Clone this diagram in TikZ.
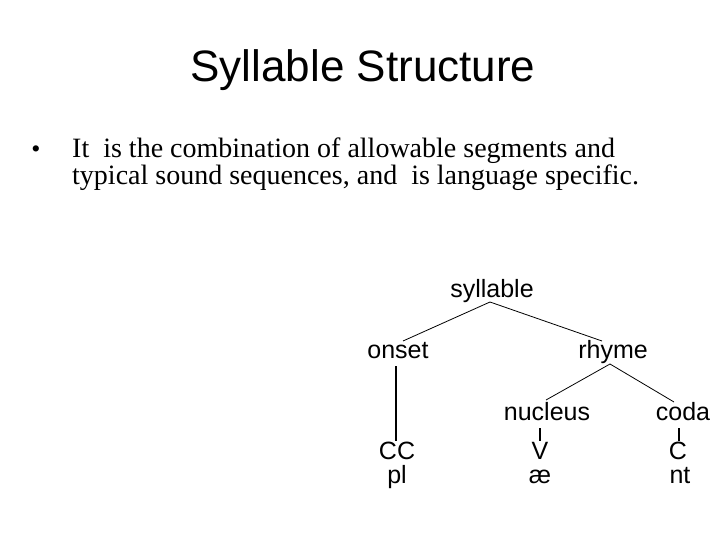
\documentclass[tikz,border=0pt]{standalone}
\usepackage{fontspec}
\setmainfont{Liberation Serif}
\newfontfamily\arialf{Liberation Sans}
\begin{document}
\begin{tikzpicture}[x=1pt,y=-1pt,
  tl/.style={font=\arialf\fontsize{25}{28}\selectfont, inner sep=1pt, text height=17pt, text depth=5pt},
  br/.style={line width=0.8pt}]
\useasboundingbox (0,0) rectangle (728,546);
\node (title) at (363,70) {\arialf\fontsize{44}{50}\selectfont Syllable Structure};
\node (bul) at (36,152) {\fontsize{26}{28}\selectfont •};
\node[anchor=north west, align=left, inner sep=0pt] (txt) at (72,138)
 {\fontsize{28}{28}\selectfont It\ \ is the combination of allowable segments and\\
  \fontsize{28}{28}\selectfont typical sound sequences, and\ \ is language specific.};
\node[tl] (syl) at (492,291) {syllable};
\node[tl] (ons) at (398,352) {onset};
\node[tl] (rhy) at (613,352) {rhyme};
\node[tl] (nuc) at (547,414) {nucleus};
\node[tl] (cod) at (683,414) {coda};
\node[tl] (cc) at (397,453) {CC};
\node[tl] (v) at (540,453) {V};
\node[tl] (c) at (678,453) {C};
\node[tl] (pl) at (397,477) {pl};
\node[tl] (ae) at (540,477) {æ};
\node[tl] (nt) at (680,477) {nt};
\coordinate (s0) at (490,302);
\draw[br] (s0) -- (403,341);
\draw[br] (s0) -- (602,341);
\draw[br,line width=1.2pt] (396,366) -- (cc.north -| 396,0);
\coordinate (r0) at (610,364);
\draw[br] (r0) -- (546,400);
\draw[br] (r0) -- (674,402);
\draw[br,line width=1.2pt] (540,428) -- (v.north -| 540,0);
\draw[br,line width=1.2pt] (679,428) -- (c.north -| 679,0);
\end{tikzpicture}
\end{document}
